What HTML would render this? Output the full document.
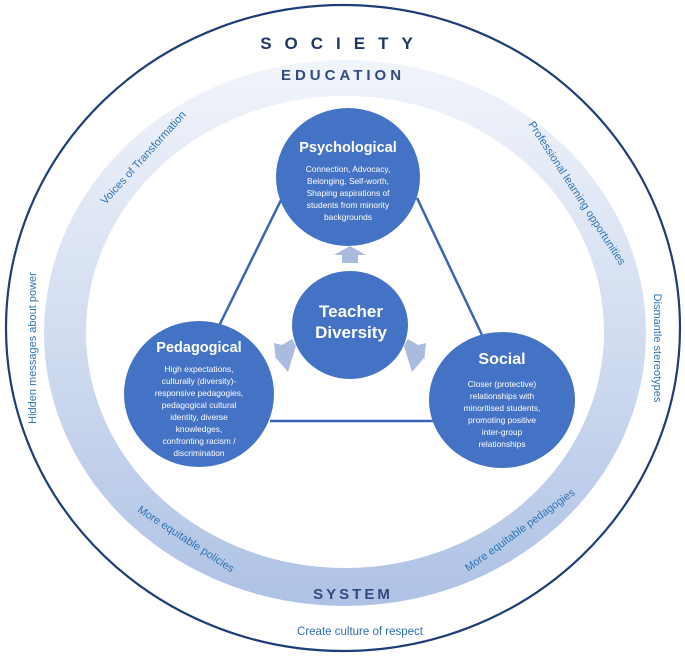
<!DOCTYPE html>
<html><head><meta charset="utf-8"><style>
html,body{margin:0;padding:0;background:#fff;}
svg{display:block;}
text{font-family:"Liberation Sans",sans-serif;}
</style></head><body>
<svg width="685" height="657" viewBox="0 0 685 657" xmlns="http://www.w3.org/2000/svg">
<defs>
<linearGradient id="band" x1="0" y1="0" x2="0" y2="1">
<stop offset="0" stop-color="#f1f4fb"/>
<stop offset="0.5" stop-color="#d2ddf0"/>
<stop offset="1" stop-color="#aec2e5"/>
</linearGradient>
</defs>
<ellipse cx="343" cy="328" rx="337" ry="323" fill="#fff" stroke="#1f3d78" stroke-width="2.2"/>
<path fill-rule="evenodd" fill="url(#band)" d="M44,333 a301,273 0 1,0 602,0 a301,273 0 1,0 -602,0 Z M86,332 a259,236 0 1,0 518,0 a259,236 0 1,0 -518,0 Z"/>
<text x="343" y="49" text-anchor="middle" font-size="17" font-weight="bold" fill="#1f3864" letter-spacing="13">SOCIETY</text>
<text x="343" y="80" text-anchor="middle" font-size="15" font-weight="bold" fill="#2f4b80" letter-spacing="4">EDUCATION</text>
<text x="353" y="599" text-anchor="middle" font-size="15" font-weight="bold" fill="#2f4b80" letter-spacing="3">SYSTEM</text>
<text x="360" y="635" text-anchor="middle" font-size="11.5" fill="#2e6eaa">Create culture of respect</text>
<g font-size="11" fill="#2e75b6" text-anchor="middle">
<text transform="translate(146,160) rotate(-48)">Voices of Transformation</text>
<text transform="translate(574,195) rotate(57)">Professional learning opportunities</text>
<text transform="translate(654,348) rotate(90)">Dismantle stereotypes</text>
<text transform="translate(36,348) rotate(-90)">Hidden messages about power</text>
<text transform="translate(184,542) rotate(33)">More equitable policies</text>
<text transform="translate(522,533) rotate(-36)">More equitable pedagogies</text>
</g>
<g stroke="#3a64b4" stroke-width="2.5">
<line x1="282" y1="198" x2="216" y2="332"/>
<line x1="417" y1="198" x2="482" y2="335"/>
<line x1="270" y1="421" x2="436" y2="421"/>
</g>
<g fill="#abbbe0">
<polygon points="342,263 342,255 334,255 350,246 366,255 358,255 358,263"/>
<polygon points="282,345 292,339 296,346 288,372 276,358 276,362 274,343"/>
<polygon points="418,345 408,339 404,346 412,372 424,358 424,362 426,343"/>
</g>
<g fill="#4472c4">
<ellipse cx="348" cy="177" rx="72" ry="69"/>
<ellipse cx="350" cy="325" rx="58" ry="54"/>
<ellipse cx="199" cy="394" rx="75" ry="73"/>
<ellipse cx="502" cy="400" rx="73" ry="68"/>
</g>
<g fill="#fff" text-anchor="middle">
<text x="348" y="152" font-size="14.5" font-weight="bold">Psychological</text>
<g font-size="8.4"><text x="348" y="172">Connection, Advocacy,</text><text x="348" y="184">Belonging, Self-worth,</text><text x="348" y="196">Shaping aspirations of</text><text x="348" y="208">students from minority</text><text x="348" y="220">backgrounds</text></g>
<text x="351" y="317" font-size="17" font-weight="bold">Teacher</text>
<text x="351" y="338" font-size="17" font-weight="bold">Diversity</text>
<text x="199" y="352" font-size="14.5" font-weight="bold">Pedagogical</text>
<g font-size="8.4"><text x="199" y="372">High expectations,</text><text x="199" y="384">culturally (diversity)-</text><text x="199" y="396">responsive pedagogies,</text><text x="199" y="408">pedagogical cultural</text><text x="199" y="420">identity, diverse</text><text x="199" y="432">knowledges,</text><text x="199" y="444">confronting racism /</text><text x="199" y="456">discrimination</text></g>
<text x="502" y="364" font-size="16" font-weight="bold">Social</text>
<g font-size="8.4"><text x="502" y="387">Closer (protective)</text><text x="502" y="399">relationships with</text><text x="502" y="411">minoritised students,</text><text x="502" y="423">promoting positive</text><text x="502" y="435">inter-group</text><text x="502" y="447">relationships</text></g>
</g>
</svg>
</body></html>
